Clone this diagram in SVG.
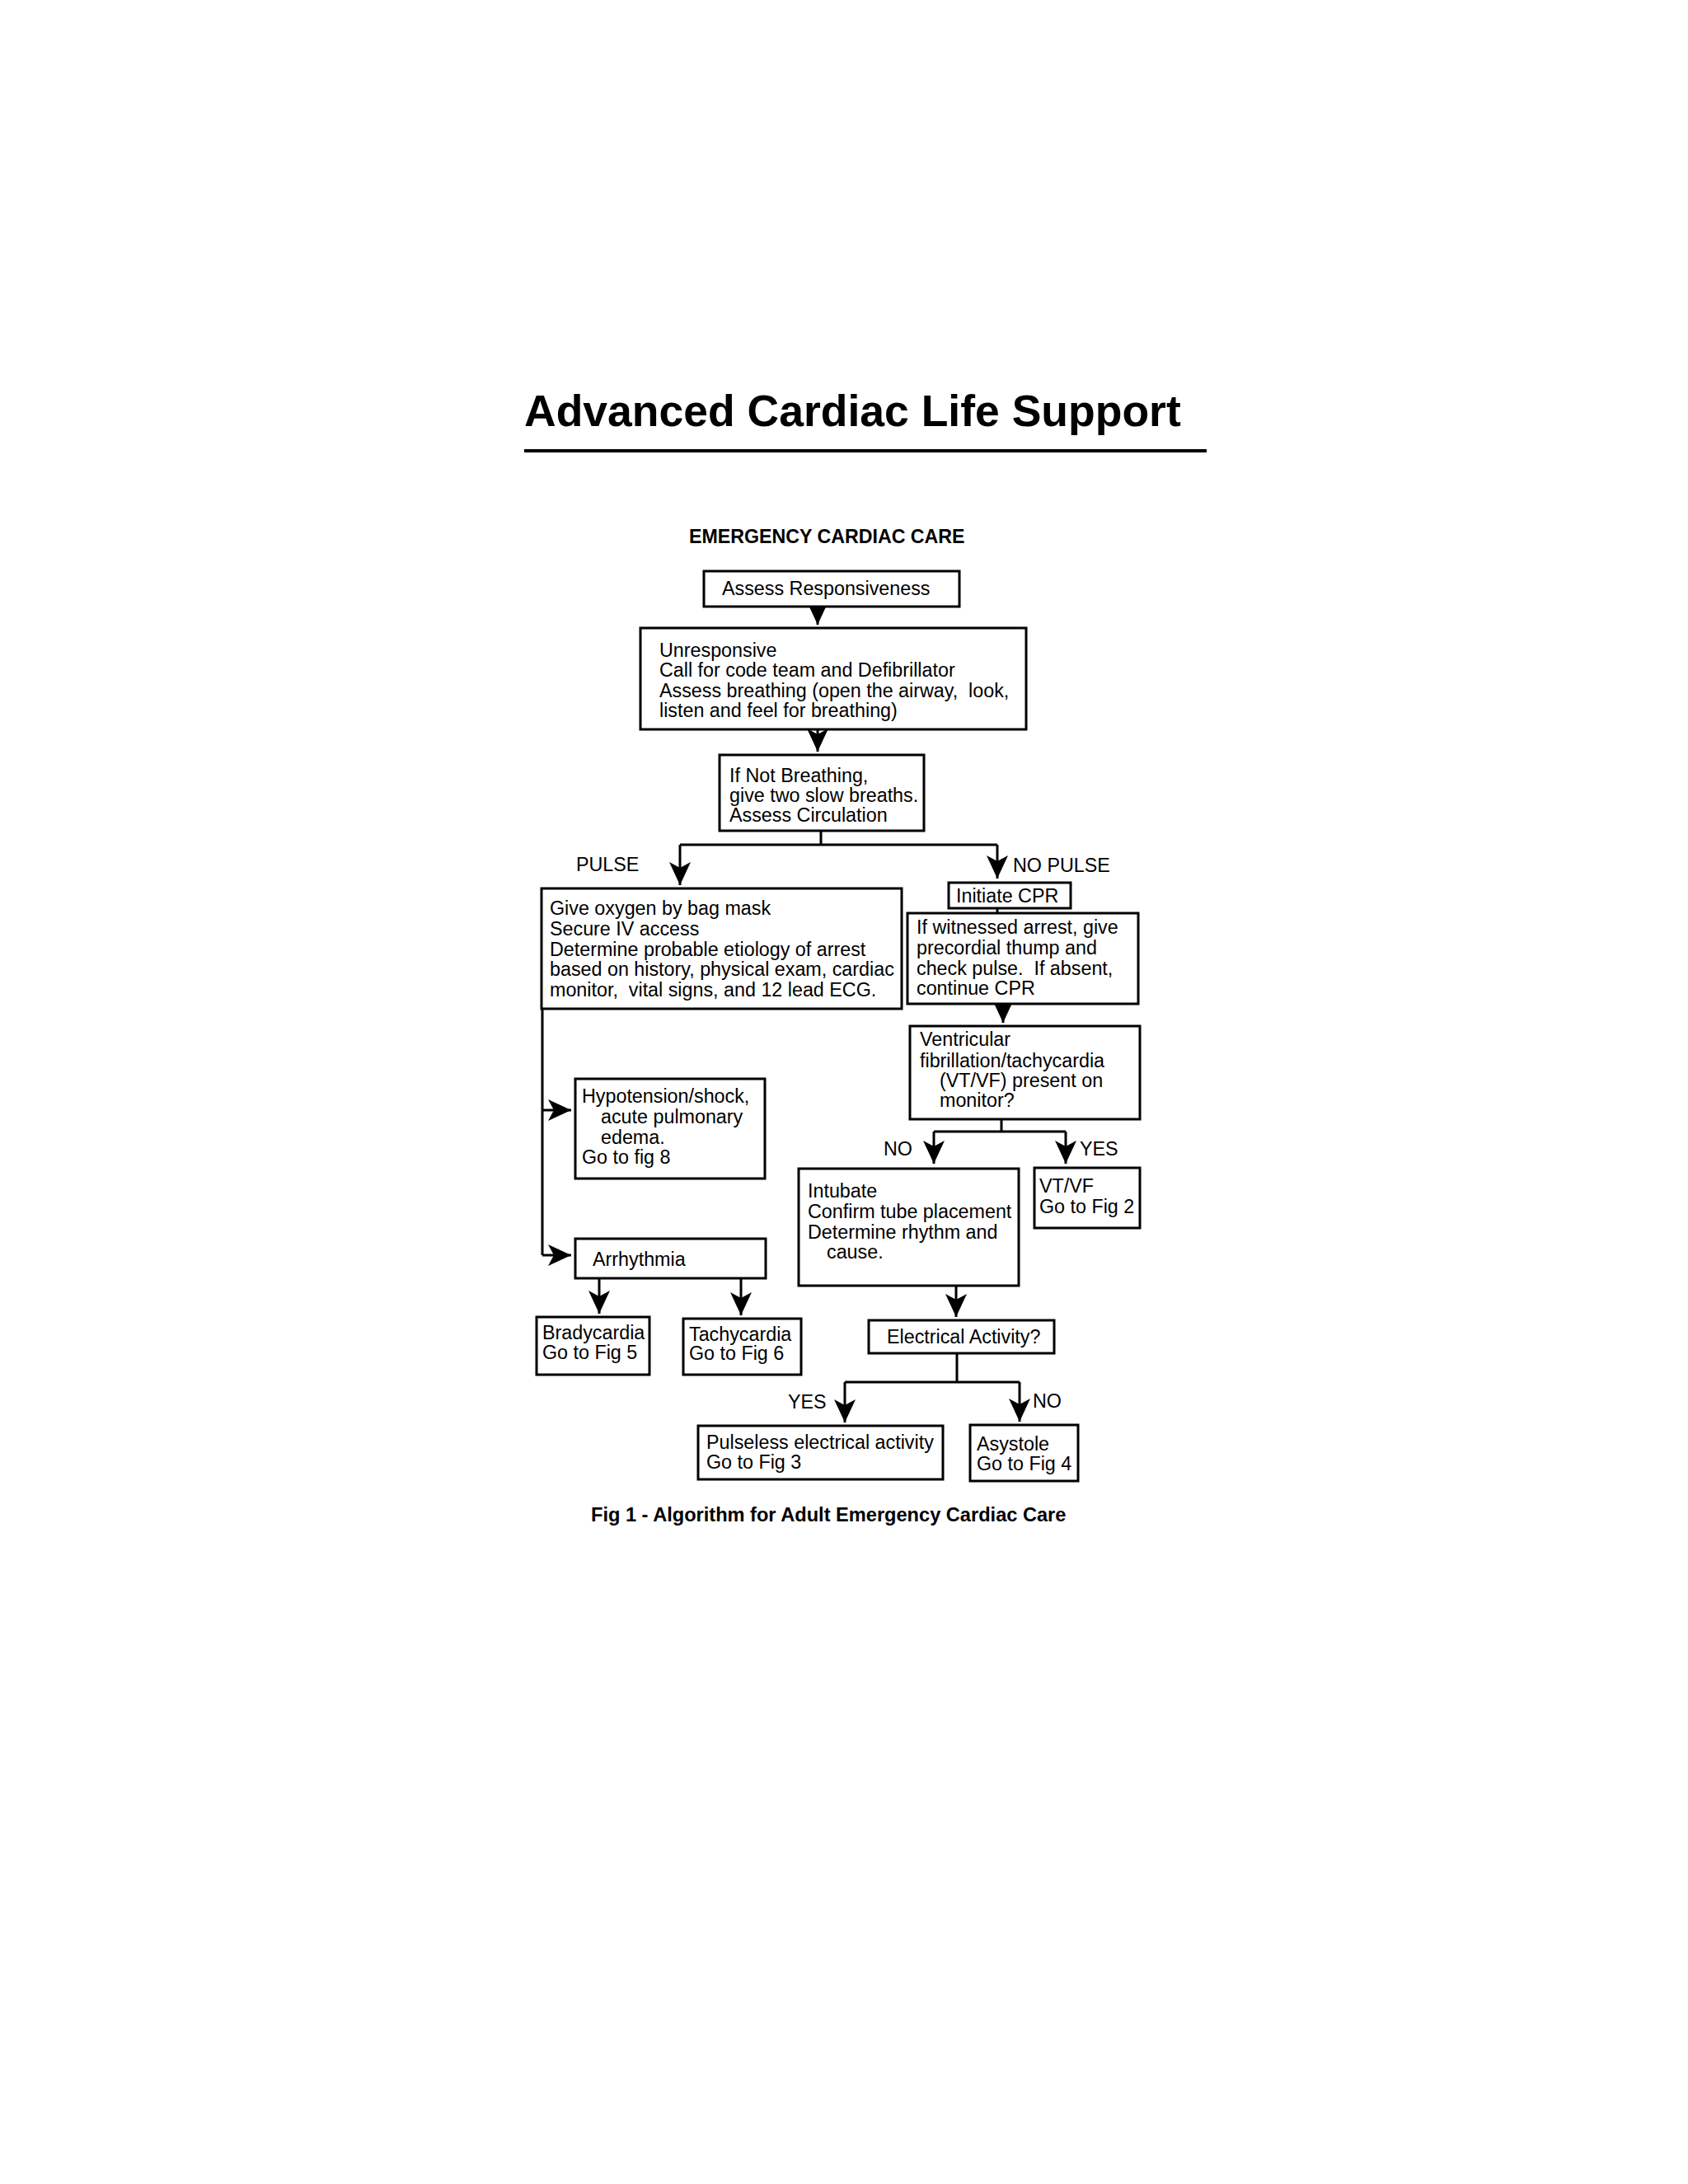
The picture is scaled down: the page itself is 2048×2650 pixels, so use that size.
<svg xmlns="http://www.w3.org/2000/svg" width="2048" height="2650" viewBox="0 0 2048 2650">
<style>
.box{fill:#fff;stroke:#000;stroke-width:3}
.t{font-family:"Liberation Sans",Arial,sans-serif;font-size:23.3px;fill:#000}
.lbl{font-family:"Liberation Sans",Arial,sans-serif;font-size:23.3px;fill:#000}
.b{font-family:"Liberation Sans",Arial,sans-serif;font-weight:bold;fill:#000}
.c{fill:none;stroke:#000;stroke-width:3}
</style>
<defs>
<marker id="ah" markerUnits="userSpaceOnUse" markerWidth="34" markerHeight="32" viewBox="-30 -15 34 30" refX="0" refY="0" orient="auto">
<path d="M0,0 L-28,-13 L-21,0 L-28,13 Z" fill="#000"/>
</marker>
</defs>
<rect width="2048" height="2650" fill="#fff"/>
<g id="title">
<text class="b" x="636" y="517" font-size="53.5">Advanced Cardiac Life Support</text>
<line x1="636" y1="547" x2="1464" y2="547" stroke="#000" stroke-width="4"/>
</g>
<g id="heading"><text class="b" x="836" y="659" font-size="23.2">EMERGENCY CARDIAC CARE</text></g>
<g id="connectors">
<path class="c" d="M992,736 V758" marker-end="url(#ah)"/>
<path class="c" d="M992,885 V912" marker-end="url(#ah)"/>
<path class="c" d="M996,1008 V1025 M825,1025 H1210"/>
<path class="c" d="M825,1025 V1074" marker-end="url(#ah)"/>
<path class="c" d="M1210,1025 V1066" marker-end="url(#ah)"/>
<path class="c" d="M658,1224 V1523"/>
<path class="c" d="M658,1347 H693" marker-end="url(#ah)"/>
<path class="c" d="M658,1523 H693" marker-end="url(#ah)"/>
<path class="c" d="M727,1551 V1594" marker-end="url(#ah)"/>
<path class="c" d="M899,1551 V1596" marker-end="url(#ah)"/>
<path class="c" d="M1210,1102 V1108"/>
<path class="c" d="M1217,1218 V1241" marker-end="url(#ah)"/>
<path class="c" d="M1215,1358 V1373 M1133,1373 H1293"/>
<path class="c" d="M1133,1373 V1412" marker-end="url(#ah)"/>
<path class="c" d="M1293,1373 V1412" marker-end="url(#ah)"/>
<path class="c" d="M1160,1560 V1598" marker-end="url(#ah)"/>
<path class="c" d="M1161,1642 V1677 M1025,1677 H1237"/>
<path class="c" d="M1025,1677 V1726" marker-end="url(#ah)"/>
<path class="c" d="M1237,1677 V1725" marker-end="url(#ah)"/>
<text class="lbl" x="699" y="1057">PULSE</text>
<text class="lbl" x="1229" y="1058">NO PULSE</text>
<text class="lbl" x="1072" y="1402">NO</text>
<text class="lbl" x="1310" y="1402">YES</text>
<text class="lbl" x="956" y="1709">YES</text>
<text class="lbl" x="1253" y="1708">NO</text>
</g>
<g id="assess">
<rect class="box" x="854" y="693" width="310" height="43"/>
<text class="t" x="876" y="722">Assess Responsiveness</text>
</g>
<g id="unresponsive">
<rect class="box" x="777" y="762" width="468" height="123"/>
<text class="t" x="800" y="797">Unresponsive</text>
<text class="t" x="800" y="821">Call for code team and Defibrillator</text>
<text class="t" x="800" y="846">Assess breathing (open the airway,&#160; look,</text>
<text class="t" x="800" y="870">listen and feel for breathing)</text>
</g>
<g id="notbreathing">
<rect class="box" x="873" y="916" width="248" height="92"/>
<text class="t" x="885" y="949">If Not Breathing,</text>
<text class="t" x="885" y="973">give two slow breaths.</text>
<text class="t" x="885" y="997">Assess Circulation</text>
</g>
<g id="oxygen">
<rect class="box" x="657" y="1078" width="437" height="146"/>
<text class="t" x="667" y="1110">Give oxygen by bag mask</text>
<text class="t" x="667" y="1135">Secure IV access</text>
<text class="t" x="667" y="1160">Determine probable etiology of arrest</text>
<text class="t" x="667" y="1184">based on history, physical exam, cardiac</text>
<text class="t" x="667" y="1209">monitor,&#160; vital signs, and 12 lead ECG.</text>
</g>
<g id="hypotension">
<rect class="box" x="698" y="1309" width="230" height="121"/>
<text class="t" x="706" y="1338">Hypotension/shock,</text>
<text class="t" x="729" y="1363">acute pulmonary</text>
<text class="t" x="729" y="1388">edema.</text>
<text class="t" x="706" y="1412">Go to fig 8</text>
</g>
<g id="arrhythmia">
<rect class="box" x="698" y="1503" width="231" height="48"/>
<text class="t" x="719" y="1536">Arrhythmia</text>
</g>
<g id="bradycardia">
<rect class="box" x="651" y="1598" width="137" height="70"/>
<text class="t" x="658" y="1625">Bradycardia</text>
<text class="t" x="658" y="1649">Go to Fig 5</text>
</g>
<g id="tachycardia">
<rect class="box" x="829" y="1600" width="143" height="68"/>
<text class="t" x="836" y="1627">Tachycardia</text>
<text class="t" x="836" y="1650">Go to Fig 6</text>
</g>
<g id="cpr">
<rect class="box" x="1151" y="1071" width="148" height="31"/>
<text class="t" x="1160" y="1095">Initiate CPR</text>
</g>
<g id="witnessed">
<rect class="box" x="1101" y="1108" width="280" height="110"/>
<text class="t" x="1112" y="1133">If witnessed arrest, give</text>
<text class="t" x="1112" y="1158">precordial thump and</text>
<text class="t" x="1112" y="1183">check pulse.&#160; If absent,</text>
<text class="t" x="1112" y="1207">continue CPR</text>
</g>
<g id="vtvf-question">
<rect class="box" x="1104" y="1245" width="279" height="113"/>
<text class="t" x="1116" y="1269">Ventricular</text>
<text class="t" x="1116" y="1295">fibrillation/tachycardia</text>
<text class="t" x="1140" y="1319">(VT/VF) present on</text>
<text class="t" x="1140" y="1343">monitor?</text>
</g>
<g id="intubate">
<rect class="box" x="969" y="1418" width="267" height="142"/>
<text class="t" x="980" y="1453">Intubate</text>
<text class="t" x="980" y="1478">Confirm tube placement</text>
<text class="t" x="980" y="1503">Determine rhythm and</text>
<text class="t" x="1003" y="1527">cause.</text>
</g>
<g id="vtvf">
<rect class="box" x="1255" y="1417" width="128" height="73"/>
<text class="t" x="1261" y="1447">VT/VF</text>
<text class="t" x="1261" y="1472">Go to Fig 2</text>
</g>
<g id="electrical">
<rect class="box" x="1054" y="1602" width="225" height="40"/>
<text class="t" x="1076" y="1630">Electrical Activity?</text>
</g>
<g id="pulseless">
<rect class="box" x="847" y="1730" width="297" height="65"/>
<text class="t" x="857" y="1758">Pulseless electrical activity</text>
<text class="t" x="857" y="1782">Go to Fig 3</text>
</g>
<g id="asystole">
<rect class="box" x="1177" y="1729" width="131" height="68"/>
<text class="t" x="1185" y="1760">Asystole</text>
<text class="t" x="1185" y="1784">Go to Fig 4</text>
</g>
<g id="caption"><text class="b" x="717" y="1846" font-size="23.6">Fig 1 - Algorithm for Adult Emergency Cardiac Care</text></g>
</svg>
